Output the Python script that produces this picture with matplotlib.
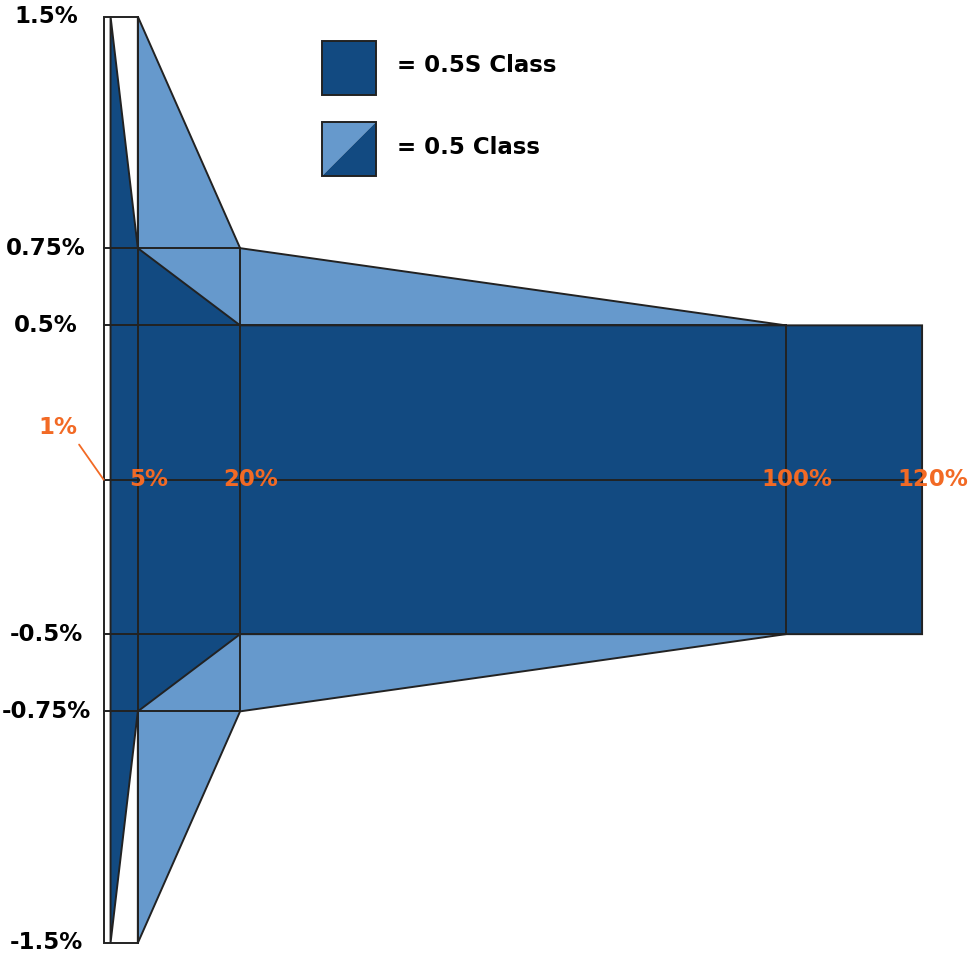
import matplotlib
matplotlib.use("Agg")
import matplotlib.pyplot as plt
from matplotlib.patches import Polygon, Rectangle

# current (% of rated) and error limits (%)
current_pts = [1, 5, 20, 100, 120]
class_05s_x = [1, 5, 20, 120]
class_05s_err = [1.5, 0.75, 0.5, 0.5]
class_05_x = [5, 20, 100]
class_05_err = [1.5, 0.75, 0.5]
err_ticks = [1.5, 0.75, 0.5, -0.5, -0.75, -1.5]
err_labels = ['1.5%', '0.75%', '0.5%', '-0.5%', '-0.75%', '-1.5%']
cur_labels = ['1%', '5%', '20%', '100%', '120%']

dark = '#124A81'
light = '#6699CC'
orange = '#F26A25'
edge = '#222222'
lw = 1.4
fs = 16.5

W, H = 975, 961
fig = plt.figure(figsize=(W / 100, H / 100), dpi=100)
ax = fig.add_axes([0, 0, 1, 1])
ax.set_xlim(-15.21, 127.76)
ax.set_ylim(-1.5584, 1.5536)
ax.axis('off')


def envelope(xs, errs):
    upper = list(zip(xs, errs))
    lower = [(x, -e) for x, e in zip(xs, errs)][::-1]
    return upper + lower


# white strip from 0% to 5%
ax.add_patch(Rectangle((0, -max(class_05s_err)), current_pts[1],
                       2 * max(class_05s_err), facecolor='white',
                       edgecolor=edge, lw=lw, zorder=1))

# 0.5 class (light) - ends at 100%, the 0.5S box covers the rest
ax.add_patch(Polygon(envelope(class_05_x, class_05_err), closed=True,
                     facecolor=light, edgecolor=edge, lw=lw, zorder=2))

# 0.5S class (dark)
ax.add_patch(Polygon(envelope(class_05s_x, class_05s_err), closed=True,
                     facecolor=dark, edgecolor=edge, lw=lw, zorder=3))

# grid lines
kw = dict(color=edge, lw=lw, zorder=4)
ax.plot([0, 120], [0, 0], **kw)
for e in [0.75, -0.75]:
    ax.plot([0, 20], [e, e], **kw)
for e in [0.5, -0.5]:
    ax.plot([0, 100], [e, e], **kw)
ax.plot([5, 5], [-1.5, 1.5], **kw)
ax.plot([20, 20], [-0.75, 0.75], **kw)
ax.plot([100, 100], [-0.5, 0.5], **kw)

# y labels
for e, lab in zip(err_ticks, err_labels):
    ax.text(46 / W, e, lab, transform=ax.get_yaxis_transform(),
            ha='center', va='center', fontsize=fs, fontweight='bold',
            color='black', zorder=6)

# x labels on the zero line
for c, lab in zip(current_pts[1:], cur_labels[1:]):
    ax.annotate(lab, xy=(c, 0), xytext=(11, 0), textcoords='offset pixels',
                ha='center', va='center', fontsize=fs, fontweight='bold',
                color=orange, zorder=6)
ax.annotate(cur_labels[0], xy=(0, 0), xytext=(58, H - 428),
            textcoords='figure pixels', ha='center', va='center',
            fontsize=fs, fontweight='bold', color=orange, zorder=6,
            arrowprops=dict(arrowstyle='-', color=orange, lw=1.3,
                            relpos=(0.95, 0.0), shrinkA=2, shrinkB=0))

# legend
tf = fig.transFigure
sq = 54
x0 = 322 / W
y1 = 1 - 95 / H
y2 = 1 - 176 / H
sw, sh = sq / W, sq / H
fig.patches.append(Rectangle((x0, y1), sw, sh, transform=tf,
                             facecolor=dark, edgecolor=edge, lw=lw))
fig.patches.append(Polygon([(x0, y2), (x0, y2 + sh), (x0 + sw, y2 + sh)],
                           closed=True, transform=tf, facecolor=light,
                           edgecolor='none'))
fig.patches.append(Polygon([(x0, y2), (x0 + sw, y2), (x0 + sw, y2 + sh)],
                           closed=True, transform=tf, facecolor=dark,
                           edgecolor='none'))
fig.patches.append(Rectangle((x0, y2), sw, sh, transform=tf,
                             facecolor='none', edgecolor=edge, lw=lw))
fig.text(397 / W, 1 - 66 / H, '= 0.5S Class', ha='left', va='center',
         fontsize=fs, fontweight='bold')
fig.text(397 / W, 1 - 148 / H, '= 0.5 Class', ha='left', va='center',
         fontsize=fs, fontweight='bold')

fig.savefig('out.png', dpi=100)
